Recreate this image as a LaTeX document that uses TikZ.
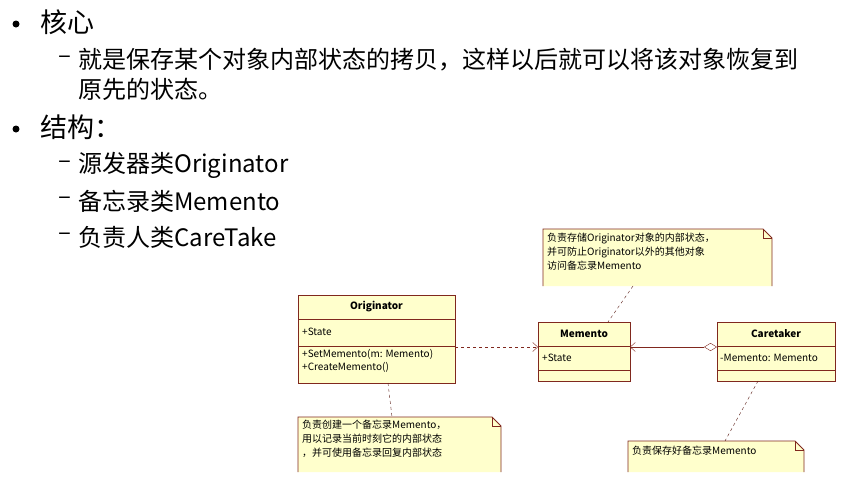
\documentclass[tikz,border=0pt]{standalone}
\usepackage{fontspec}
\setmainfont{Noto Sans CJK SC}
\usetikzlibrary{positioning,arrows.meta,shapes.multipart}
\definecolor{umlfill}{RGB}{255,255,204}
\definecolor{umlline}{RGB}{128,40,30}
\tikzset{
  umlbox/.style={draw=umlline, fill=umlfill, line width=0.8pt},
  notetext/.style={font=\fontsize{10}{14}\selectfont, align=left, anchor=north west, inner sep=0pt},
  umltext/.style={font=\fontsize{10}{13}\selectfont, inner sep=0pt},
  umlhead/.style={font=\fontsize{10}{13}\selectfont\bfseries, inner sep=0pt},
  notelink/.style={dashed, umlline!70!black, thin},
  bigtext/.style={anchor=west, inner sep=0pt, font=\fontsize{24}{29}\selectfont},
  headtext/.style={anchor=west, inner sep=0pt, font=\fontsize{27}{32}\selectfont},
  dot/.style={circle, fill=black, inner sep=0pt, minimum size=7pt}
}
\newcommand{\notebox}[5]{% name, x1, y1, x2, y2
  \fill[umlfill] (#2,#3) -- (#4-9,#3) -- (#4,#3+9) -- (#4,#5) -- (#2,#5) -- cycle;
  \draw[umlline, line width=0.8pt] (#2,#5) -- (#2,#3) -- (#4-9,#3) -- (#4,#3+9) -- (#4,#5);
  \draw[umlline, line width=0.8pt] (#4-9,#3) -- (#4-9,#3+9) -- (#4,#3+9);
  \coordinate (#1) at ({(#2+#4)/2},#3);
}
\begin{document}
\begin{tikzpicture}[x=1pt, y=-1pt]
\useasboundingbox (0,0) rectangle (849,479);
\fill[white] (0,0) rectangle (849,479);
% bullets
\node [dot] (b1) at (16, 24) {};
\node [headtext] (core) at (40, 22) {核心};
\node [bigtext] (d1) at (58, 60) {–};
\node [bigtext] (l1) at (78, 60) {就是保存某个对象内部状态的拷贝，这样以后就可以将该对象恢复到};
\node [bigtext] (l2) at (78, 89) {原先的状态。};
\node [dot] (b2) at (16, 129) {};
\node [headtext] (struct) at (40, 127) {结构：};
\node [bigtext] (d2) at (58, 165) {–};
\node [bigtext] (s1) at (78, 165) {源发器类Originator};
\node [bigtext] (d3) at (58, 201) {–};
\node [bigtext] (s2) at (78, 201) {备忘录类Memento};
\node [bigtext] (d4) at (58, 237) {–};
\node [bigtext] (s3) at (78, 237) {负责人类CareTake};
% Originator
\draw [umlbox] (298,295) rectangle (455,383);
\draw [umlline, line width=0.8pt] (298,319) -- (455,319) (298,346) -- (455,346);
\node [umlhead] (orig) at (376.5,307) {Originator};
\node [umltext, anchor=west] (origstate) at (302,332) {+State};
\node [umltext, anchor=north west, align=left] (origops) at (302,349) {+SetMemento(m: Memento)\\+CreateMemento()};
\coordinate (origE) at (455,347);
\coordinate (origS) at (388,383);
% Memento
\draw [umlbox] (538,322) rectangle (630,381);
\draw [umlline, line width=0.8pt] (538,346) -- (630,346) (538,370) -- (630,370);
\node [umlhead] (mem) at (584,334) {Memento};
\node [umltext, anchor=west] (memstate) at (542,358) {+State};
\coordinate (memW) at (538,347);
\coordinate (memE) at (630,347);
\coordinate (memN) at (608,322);
% Caretaker
\draw [umlbox] (717,322) rectangle (835,381);
\draw [umlline, line width=0.8pt] (717,346) -- (835,346) (717,370) -- (835,370);
\node [umlhead] (care) at (776,334) {Caretaker};
\node [umltext, anchor=west] (carestate) at (720,358) {-Memento: Memento};
\coordinate (careW) at (717,347);
\coordinate (careS) at (758,381);
% notes
\notebox{noteTop}{543}{229}{772}{286}
\node [notetext] (noteTopText) at (547,233) {负责存储Originator对象的内部状态，\\并可防止Originator以外的其他对象\\访问备忘录Memento};
\notebox{noteLeft}{298}{417}{501}{472}
\node [notetext] (noteLeftText) at (302,420) {负责创建一个备忘录Memento，\\用以记录当前时刻它的内部状态\\，并可使用备忘录回复内部状态};
\notebox{noteRight}{628}{441}{804}{472}
\node [notetext] (noteRightText) at (632,446) {负责保存好备忘录Memento};
% connectors
\draw [dashed, umlline, -{Straight Barb[length=5pt, width=9pt]}] (origE) -- (memW);
\draw [umlline, {Straight Barb[length=5pt, width=9pt]}-{Diamond[open, fill=white, length=13pt, width=8pt]}] (memE) -- (careW);
\draw [notelink] (633,286) -- (memN);
\draw [notelink] (origS) -- (392,417);
\draw [notelink] (careS) -- (725,441);
\end{tikzpicture}
\end{document}
